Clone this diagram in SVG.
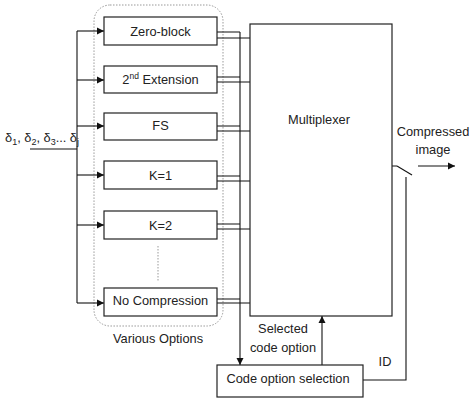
<svg xmlns="http://www.w3.org/2000/svg" width="474" height="404" viewBox="0 0 474 404">
<style>
text{font-family:"Liberation Sans",Arial,sans-serif;font-size:12.8px;fill:#222}
.c{text-anchor:middle}
.box{fill:#fff;stroke:#222;stroke-width:1.2}
.ln{fill:none;stroke:#111;stroke-width:1.1}
</style>
<defs>
<marker id="ar" markerWidth="8" markerHeight="8" refX="7" refY="4" orient="auto" markerUnits="userSpaceOnUse">
<path d="M0,0.5 L7,4 L0,7.5 Z" fill="#111"/>
</marker>
</defs>
<g id="various-options">
<rect x="94" y="5" width="129" height="321" rx="16" fill="none" stroke="#999" stroke-width="1" stroke-dasharray="1.5,1.5"/>
<line x1="158" y1="246" x2="158" y2="281" stroke="#999" stroke-width="1" stroke-dasharray="1.5,1.5"/>
<text class="c" x="158" y="343">Various Options</text>
</g>
<g id="connectors">
<line class="ln" x1="30" y1="149" x2="77" y2="149"/>
<line class="ln" x1="77" y1="31" x2="77" y2="303"/>
<line class="ln" x1="77" y1="31" x2="104" y2="31" marker-end="url(#ar)"/>
<line class="ln" x1="77" y1="80" x2="104" y2="80" marker-end="url(#ar)"/>
<line class="ln" x1="77" y1="126" x2="104" y2="126" marker-end="url(#ar)"/>
<line class="ln" x1="77" y1="175" x2="104" y2="175" marker-end="url(#ar)"/>
<line class="ln" x1="77" y1="225" x2="104" y2="225" marker-end="url(#ar)"/>
<line class="ln" x1="77" y1="303" x2="104" y2="303" marker-end="url(#ar)"/>
<path class="ln" d="M217,32H240M217,77H240M217,126H240M217,176H240M217,224H240M217,299H240"/>
<path class="ln" d="M217,38H262M217,82H262M217,131H262M217,181H262M217,229H262M217,303H262"/>
<line class="ln" x1="240" y1="32" x2="240" y2="365" marker-end="url(#ar)"/>
<line class="ln" x1="322" y1="365" x2="322" y2="316" marker-end="url(#ar)"/>
<path class="ln" d="M363,380H406V177"/>
<line class="ln" x1="364" y1="166" x2="397" y2="166"/>
<line class="ln" x1="397" y1="166" x2="412" y2="175"/>
<line class="ln" x1="418" y1="166" x2="455" y2="166" marker-end="url(#ar)"/>
</g>
<g id="zero-block"><rect class="box" x="104" y="17" width="113" height="28"/><text class="c" x="160.5" y="35.5">Zero-block</text></g>
<g id="second-extension"><rect class="box" x="104" y="66" width="113" height="27"/><text class="c" x="160.5" y="84">2<tspan font-size="8.5" dy="-5">nd</tspan><tspan dy="5"> Extension</tspan></text></g>
<g id="fs"><rect class="box" x="104" y="113" width="113" height="27"/><text class="c" x="160.5" y="129.5">FS</text></g>
<g id="k1"><rect class="box" x="104" y="161" width="113" height="28"/><text class="c" x="160.5" y="179.5">K=1</text></g>
<g id="k2"><rect class="box" x="104" y="211" width="113" height="28"/><text class="c" x="160.5" y="229.5">K=2</text></g>
<g id="no-compression"><rect class="box" x="104" y="288" width="113" height="28"/><text class="c" x="160.5" y="304.5">No Compression</text></g>
<g id="input"><text x="5" y="142" font-size="13.5">δ<tspan font-size="9" dy="3">1</tspan><tspan dy="-3">, δ</tspan><tspan font-size="9" dy="3">2</tspan><tspan dy="-3">, δ</tspan><tspan font-size="9" dy="3">3</tspan><tspan dy="-3">... δ</tspan><tspan font-size="9" dy="3">j</tspan></text></g>
<g id="multiplexer"><rect class="box" x="250" y="24" width="142" height="292" fill="none"/><text class="c" x="319" y="124">Multiplexer</text></g>
<g id="output"><text class="c" x="433" y="136">Compressed</text><text class="c" x="433" y="154">image</text></g>
<g id="code-option-selection"><rect class="box" x="217" y="365" width="146" height="32"/><text class="c" x="288" y="382.5">Code option selection</text></g>
<g id="labels"><text class="c" x="283" y="333">Selected</text><text class="c" x="283" y="352">code option</text><text class="c" x="385" y="366">ID</text></g>
</svg>
